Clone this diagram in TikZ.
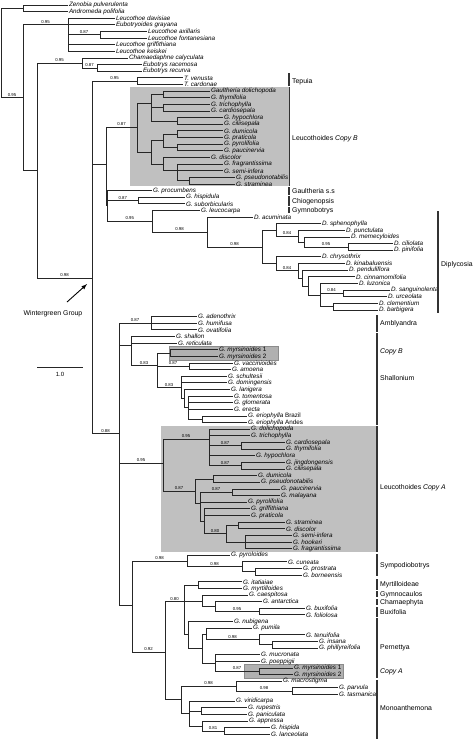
\documentclass[tikz,border=0pt]{standalone}
\usepackage{fontspec}
\setmainfont{Liberation Sans}
\usetikzlibrary{arrows}
\definecolor{boxgray}{RGB}{192,192,192}
\definecolor{myrgray}{RGB}{176,176,176}
\tikzstyle{branch} = [draw=black!85, line width=0.95pt]
\tikzstyle{taxon} = [anchor=west, inner sep=0.8pt, font=\fontsize{6.3}{6.5}\selectfont\itshape]
\tikzstyle{cladename} = [anchor=west, inner sep=0pt, font=\fontsize{6.9}{7.5}\selectfont]
\tikzstyle{support} = [above, inner sep=0.9pt, font=\fontsize{4.3}{4.5}\selectfont]
\tikzstyle{cladebar} = [draw=black!80, line width=1.4pt]

\begin{document}
\begin{tikzpicture}[x=1pt, y=-6.63pt]
\useasboundingbox (0,-0.754) rectangle (474,110.709);

% shaded clades
\fill[boxgray] (130,12.37) rectangle (290,27.3);
\fill[boxgray] (161,63.5) rectangle (377,82.5);
\fill[myrgray, draw=black!45, line width=0.4pt] (169,51.4) rectangle (278,53.55);
\fill[myrgray, draw=black!45, line width=0.4pt] (244,99.4) rectangle (343,101.5);

% taxa
\node (l0) [taxon] at (68,0) {Zenobia pulverulenta};
\node (l1) [taxon] at (68,1) {Andromeda polifolia};
\node (l2) [taxon] at (115,2) {Leucothoe davisiae};
\node (l3) [taxon] at (115,3) {Eubotryoides grayana};
\node (l4) [taxon] at (147,4) {Leucothoe axillaris};
\node (l5) [taxon] at (147,5) {Leucothoe fontanesiana};
\node (l6) [taxon] at (115,6) {Leucothoe griffithiana};
\node (l7) [taxon] at (115,7) {Leucothoe keiskei};
\node (l8) [taxon] at (128,8) {Chamaedaphne calyculata};
\node (l9) [taxon] at (142,9) {Eubotrys racemosa};
\node (l10) [taxon] at (142,10) {Eubotrys recurva};
\node (l11) [taxon] at (183,11) {T. venusta};
\node (l12) [taxon] at (183,12) {T. cardonae};
\node (l13) [taxon] at (210,13) {Gaultheria dolichopoda};
\node (l14) [taxon] at (210,14) {G. thymifolia};
\node (l15) [taxon] at (210,15) {G. trichophylla};
\node (l16) [taxon] at (210,16) {G. cardiosepala};
\node (l17) [taxon] at (223,17) {G. hypochlora};
\node (l18) [taxon] at (223,18) {G. ciliisepala};
\node (l19) [taxon] at (223,19) {G. dumicola};
\node (l20) [taxon] at (223,20) {G. praticola};
\node (l21) [taxon] at (223,21) {G. pyrolifolia};
\node (l22) [taxon] at (223,22) {G. paucinervia};
\node (l23) [taxon] at (210,23) {G. discolor};
\node (l24) [taxon] at (223,24) {G. fragrantissima};
\node (l25) [taxon] at (223,25) {G. semi-infera};
\node (l26) [taxon] at (235,26) {G. pseudonotabilis};
\node (l27) [taxon] at (235,27) {G. straminea};
\node (l28) [taxon] at (152,28) {G. procumbens};
\node (l29) [taxon] at (185,29) {G. hispidula};
\node (l30) [taxon] at (185,30) {G. suborbicularis};
\node (l31) [taxon] at (200,31) {G. leucocarpa};
\node (l32) [taxon] at (253,32) {D. acuminata};
\node (l33) [taxon] at (321,33) {D. sphenophylla};
\node (l34) [taxon] at (345,34) {D. punctulata};
\node (l35) [taxon] at (350,35) {D. memecyloides};
\node (l36) [taxon] at (393,36) {D. ciliolata};
\node (l37) [taxon] at (393,37) {D. pinifolia};
\node (l38) [taxon] at (321,38) {D. chrysothrix};
\node (l39) [taxon] at (345,39) {D. kinabaluensis};
\node (l40) [taxon] at (348,40) {D. penduliflora};
\node (l41) [taxon] at (355,41) {D. cinnamomifolia};
\node (l42) [taxon] at (358,42) {D. luzonica};
\node (l43) [taxon] at (390,43) {D. sanguinolenta};
\node (l44) [taxon] at (387,44) {D. urceolata};
\node (l45) [taxon] at (378,45) {D. clementium};
\node (l46) [taxon] at (378,46) {D. barbigera};
\node (l47) [taxon] at (197,47) {G. adenothrix};
\node (l48) [taxon] at (197,48) {G. humifusa};
\node (l49) [taxon] at (197,49) {G. ovatifolia};
\node (l50) [taxon] at (175,50) {G. shallon};
\node (l51) [taxon] at (177,51) {G. reticulata};
\node (l52) [taxon] at (218,52) {G. myrsinoides \textup{1}};
\node (l53) [taxon] at (218,53) {G. myrsinoides \textup{2}};
\node (l54) [taxon] at (233,54) {G. vaccinioides};
\node (l55) [taxon] at (231,55) {G. amoena};
\node (l56) [taxon] at (227,56) {G. schultesii};
\node (l57) [taxon] at (227,57) {G. domingensis};
\node (l58) [taxon] at (230,58) {G. lanigera};
\node (l59) [taxon] at (233,59) {G. tomentosa};
\node (l60) [taxon] at (233,60) {G. glomerata};
\node (l61) [taxon] at (233,61) {G. erecta};
\node (l62) [taxon] at (247,62) {G. eriophylla \textup{Brazil}};
\node (l63) [taxon] at (247,63) {G. eriophylla \textup{Andes}};
\node (l64) [taxon] at (250,64) {G. dolichopoda};
\node (l65) [taxon] at (250,65) {G. trichophylla};
\node (l66) [taxon] at (285,66) {G. cardiosepala};
\node (l67) [taxon] at (285,67) {G. thymifolia};
\node (l68) [taxon] at (255,68) {G. hypochlora};
\node (l69) [taxon] at (285,69) {G. jingdongensis};
\node (l70) [taxon] at (285,70) {G. ciliisepala};
\node (l71) [taxon] at (257,71) {G. dumicola};
\node (l72) [taxon] at (260,72) {G. pseudonotabilis};
\node (l73) [taxon] at (280,73) {G. paucinervia};
\node (l74) [taxon] at (280,74) {G. malayana};
\node (l75) [taxon] at (247,75) {G. pyrolifolia};
\node (l76) [taxon] at (250,76) {G. griffithiana};
\node (l77) [taxon] at (250,77) {G. praticola};
\node (l78) [taxon] at (285,78) {G. straminea};
\node (l79) [taxon] at (285,79) {G. discolor};
\node (l80) [taxon] at (292,80) {G. semi-infera};
\node (l81) [taxon] at (292,81) {G. hookeri};
\node (l82) [taxon] at (292,82) {G. fragrantissima};
\node (l83) [taxon] at (230,83) {G. pyroloides};
\node (l84) [taxon] at (287,84) {G. cuneata};
\node (l85) [taxon] at (302,85) {G. prostrata};
\node (l86) [taxon] at (302,86) {G. borneensis};
\node (l87) [taxon] at (242,87) {G. itatiaiae};
\node (l88) [taxon] at (242,88) {G. myrtilloides};
\node (l89) [taxon] at (248,89) {G. caespitosa};
\node (l90) [taxon] at (262,90) {G. antarctica};
\node (l91) [taxon] at (305,91) {G. buxifolia};
\node (l92) [taxon] at (305,92) {G. foliolosa};
\node (l93) [taxon] at (233,93) {G. nubigena};
\node (l94) [taxon] at (252,94) {G. pumila};
\node (l95) [taxon] at (305,95) {G. tenuifolia};
\node (l96) [taxon] at (318,96) {G. insana};
\node (l97) [taxon] at (318,97) {G. phillyreifolia};
\node (l98) [taxon] at (260,98) {G. mucronata};
\node (l99) [taxon] at (260,99) {G. poeppigii};
\node (l100) [taxon] at (293,100) {G. myrsinoides \textup{1}};
\node (l101) [taxon] at (293,101) {G. myrsinoides \textup{2}};
\node (l102) [taxon] at (282,102) {G. macrostigma};
\node (l103) [taxon] at (338,103) {G. parvula};
\node (l104) [taxon] at (338,104) {G. tasmanica};
\node (l105) [taxon] at (235,105) {G. viridicarpa};
\node (l106) [taxon] at (247,106) {G. rupestris};
\node (l107) [taxon] at (247,107) {G. paniculata};
\node (l108) [taxon] at (248,108) {G. appressa};
\node (l109) [taxon] at (270,109) {G. hispida};
\node (l110) [taxon] at (270,110) {G. lanceolata};

% internal nodes
\coordinate (root) at (1,7.25);
\coordinate (zn) at (23,0.5);
\coordinate (b1) at (23,14);
\coordinate (leu) at (68,3);
\coordinate (lax) at (100,4.5);
\coordinate (c1) at (37,25);
\coordinate (cha) at (82,8.75);
\coordinate (eub) at (97,9.5);
\coordinate (wg) at (92,41.2);
\coordinate (tep) at (137,11.5);
\coordinate (E) at (106,24);
\coordinate (cpB) at (137,18.4);
\coordinate (tB1) at (151,14.8);
\coordinate (tB2) at (163,13.5);
\coordinate (tB3) at (163,15.5);
\coordinate (hyp) at (177,17.5);
\coordinate (bB1) at (151,22.25);
\coordinate (bB2) at (163,20.5);
\coordinate (dp) at (177,19.5);
\coordinate (pp) at (177,21.5);
\coordinate (bB3) at (163,24);
\coordinate (bB4) at (177,25);
\coordinate (ps) at (189,26.5);
\coordinate (E2) at (107.5,30.3);
\coordinate (chi) at (138,29.5);
\coordinate (gd) at (152,32.6);
\coordinate (dip) at (207,34.25);
\coordinate (dip2) at (262,36.5);
\coordinate (dA) at (276,33.95);
\coordinate (dA2) at (298,34.9);
\coordinate (dA3) at (304,35.75);
\coordinate (cp) at (348,36.5);
\coordinate (dB) at (276,39.05);
\coordinate (dB2) at (298,40.1);
\coordinate (dB3) at (302,41.2);
\coordinate (dB4) at (308,42.4);
\coordinate (dB5) at (320,43.75);
\coordinate (su) at (343,43.5);
\coordinate (cb) at (333,45.5);
\coordinate (H) at (119,64.7);
\coordinate (amb) at (151,48);
\coordinate (I) at (131,51.3);
\coordinate (J) at (157,54.4);
\coordinate (myrB) at (170,52.5);
\coordinate (vac) at (189,54.5);
\coordinate (K) at (181,57.7);
\coordinate (K2) at (184,59.4);
\coordinate (K3) at (188,60.75);
\coordinate (eri) at (202,62.5);
\coordinate (cpA) at (163,69.1);
\coordinate (M) at (209,65.5);
\coordinate (M1) at (241,66.5);
\coordinate (M2) at (241,69.5);
\coordinate (N) at (195,73.3);
\coordinate (N0) at (213,71.5);
\coordinate (N2) at (200,75.2);
\coordinate (N21) at (232,73.5);
\coordinate (N3) at (204,77.9);
\coordinate (N4) at (226,79.75);
\coordinate (N41) at (238,78.5);
\coordinate (N42) at (245,81);
\coordinate (O) at (132,90.5);
\coordinate (sym) at (187,83.9);
\coordinate (sym2) at (242,84.75);
\coordinate (sym3) at (255,85.5);
\coordinate (P) at (165,97.6);
\coordinate (Q) at (184,90);
\coordinate (my2) at (198,87.5);
\coordinate (R) at (202,89.9);
\coordinate (S) at (215,90.75);
\coordinate (T) at (259,91.5);
\coordinate (Pn) at (188,95);
\coordinate (U) at (202,97.1);
\coordinate (U1) at (206,94.9);
\coordinate (U11) at (259,95.75);
\coordinate (U12) at (272,96.5);
\coordinate (U2) at (215,99.25);
\coordinate (myrA) at (259,100.5);
\coordinate (Mon) at (181,104.8);
\coordinate (Mo1) at (236,102.75);
\coordinate (Mo2) at (292,103.5);
\coordinate (V) at (189,106.9);
\coordinate (V1) at (201,106.5);
\coordinate (V2) at (202,108.75);
\coordinate (V21) at (224,109.5);

% branches
\draw[branch] (root) |- (zn) (root) |- (b1) node[support,pos=0.75]{0.95};
\draw[branch] (zn) |- (l0.west) (zn) |- (l1.west);
\draw[branch] (b1) |- (leu) node[support,pos=0.75]{0.95} (b1) |- (c1);
\draw[branch] (leu) |- (l2.west) (leu) |- (l3.west) (leu) |- (lax) node[support,pos=0.75]{0.87} (leu) |- (l6.west) (leu) |- (l7.west);
\draw[branch] (lax) |- (l4.west) (lax) |- (l5.west);
\draw[branch] (c1) |- (cha) node[support,pos=0.75]{0.95} (c1) |- (wg) node[support,pos=0.75]{0.98};
\draw[branch] (cha) |- (l8.west) (cha) |- (eub) node[support,pos=0.75]{0.87};
\draw[branch] (eub) |- (l9.west) (eub) |- (l10.west);
\draw[branch] (wg) |- (tep) node[support,pos=0.75]{0.95} (wg) |- (E) (wg) |- (H) node[support,pos=0.75]{0.88};
\draw[branch] (tep) |- (l11.west) (tep) |- (l12.west);
\draw[branch] (E) |- (cpB) node[support,pos=0.75]{0.87} (E) |- (E2);
\draw[branch] (cpB) |- (tB1) (cpB) |- (bB1);
\draw[branch] (tB1) |- (tB2) (tB1) |- (tB3) (tB1) |- (hyp);
\draw[branch] (tB2) |- (l13.west) (tB2) |- (l14.west);
\draw[branch] (tB3) |- (l15.west) (tB3) |- (l16.west);
\draw[branch] (hyp) |- (l17.west) (hyp) |- (l18.west);
\draw[branch] (bB1) |- (bB2) (bB1) |- (bB3);
\draw[branch] (bB2) |- (dp) (bB2) |- (pp);
\draw[branch] (dp) |- (l19.west) (dp) |- (l20.west);
\draw[branch] (pp) |- (l21.west) (pp) |- (l22.west);
\draw[branch] (bB3) |- (l23.west) (bB3) |- (bB4);
\draw[branch] (bB4) |- (l24.west) (bB4) |- (l25.west) (bB4) |- (ps);
\draw[branch] (ps) |- (l26.west) (ps) |- (l27.west);
\draw[branch] (E2) |- (l28.west) (E2) |- (chi) node[support,pos=0.75]{0.87} (E2) |- (gd) node[support,pos=0.75]{0.95};
\draw[branch] (chi) |- (l29.west) (chi) |- (l30.west);
\draw[branch] (gd) |- (l31.west) (gd) |- (dip) node[support,pos=0.75]{0.98};
\draw[branch] (dip) |- (l32.west) (dip) |- (dip2) node[support,pos=0.75]{0.98};
\draw[branch] (dip2) |- (dA) (dip2) |- (dB);
\draw[branch] (dA) |- (l33.west) (dA) |- (dA2) node[support,pos=0.75]{0.84};
\draw[branch] (dA2) |- (l34.west) (dA2) |- (dA3);
\draw[branch] (dA3) |- (l35.west) (dA3) |- (cp) node[support,pos=0.75]{0.95};
\draw[branch] (cp) |- (l36.west) (cp) |- (l37.west);
\draw[branch] (dB) |- (l38.west) (dB) |- (dB2) node[support,pos=0.75]{0.84};
\draw[branch] (dB2) |- (l39.west) (dB2) |- (dB3);
\draw[branch] (dB3) |- (l40.west) (dB3) |- (dB4);
\draw[branch] (dB4) |- (l41.west) (dB4) |- (dB5);
\draw[branch] (dB5) |- (l42.west) (dB5) |- (su) node[support,pos=0.75]{0.84} (dB5) |- (cb);
\draw[branch] (su) |- (l43.west) (su) |- (l44.west);
\draw[branch] (cb) |- (l45.west) (cb) |- (l46.west);
\draw[branch] (H) |- (amb) node[support,pos=0.75]{0.87} (H) |- (I) (H) |- (cpA) node[support,pos=0.75]{0.95} (H) |- (O);
\draw[branch] (amb) |- (l47.west) (amb) |- (l48.west) (amb) |- (l49.west);
\draw[branch] (I) |- (l50.west) (I) |- (l51.west) (I) |- (J) node[support,pos=0.75]{0.83};
\draw[branch] (J) |- (myrB) (J) |- (vac) node[support,pos=0.75]{0.87} (J) |- (K) node[support,pos=0.75]{0.83};
\draw[branch] (myrB) |- (l52.west) (myrB) |- (l53.west);
\draw[branch] (vac) |- (l54.west) (vac) |- (l55.west);
\draw[branch] (K) |- (l56.west) (K) |- (l57.west) (K) |- (K2);
\draw[branch] (K2) |- (l58.west) (K2) |- (K3);
\draw[branch] (K3) |- (l59.west) (K3) |- (l60.west) (K3) |- (l61.west) (K3) |- (eri);
\draw[branch] (eri) |- (l62.west) (eri) |- (l63.west);
\draw[branch] (cpA) |- (M) node[support,pos=0.75]{0.95} (cpA) |- (N) node[support,pos=0.75]{0.87};
\draw[branch] (M) |- (l64.west) (M) |- (l65.west) (M) |- (M1) node[support,pos=0.75]{0.87} (M) |- (l68.west) (M) |- (M2) node[support,pos=0.75]{0.87};
\draw[branch] (M1) |- (l66.west) (M1) |- (l67.west);
\draw[branch] (M2) |- (l69.west) (M2) |- (l70.west);
\draw[branch] (N) |- (N0) (N) |- (N2);
\draw[branch] (N0) |- (l71.west) (N0) |- (l72.west);
\draw[branch] (N2) |- (N21) node[support,pos=0.75]{0.87} (N2) |- (l75.west) (N2) |- (N3);
\draw[branch] (N21) |- (l73.west) (N21) |- (l74.west);
\draw[branch] (N3) |- (l76.west) (N3) |- (l77.west) (N3) |- (N4) node[support,pos=0.75]{0.80};
\draw[branch] (N4) |- (N41) (N4) |- (N42);
\draw[branch] (N41) |- (l78.west) (N41) |- (l79.west);
\draw[branch] (N42) |- (l80.west) (N42) |- (l81.west) (N42) |- (l82.west);
\draw[branch] (O) |- (sym) node[support,pos=0.75]{0.98} (O) |- (P) node[support,pos=0.75]{0.92};
\draw[branch] (sym) |- (l83.west) (sym) |- (sym2) node[support,pos=0.75]{0.98};
\draw[branch] (sym2) |- (l84.west) (sym2) |- (sym3);
\draw[branch] (sym3) |- (l85.west) (sym3) |- (l86.west);
\draw[branch] (P) |- (Q) node[support,pos=0.75]{0.80} (P) |- (Mon);
\draw[branch] (Q) |- (my2) (Q) |- (R) (Q) |- (Pn);
\draw[branch] (my2) |- (l87.west) (my2) |- (l88.west);
\draw[branch] (R) |- (l89.west) (R) |- (S);
\draw[branch] (S) |- (l90.west) (S) |- (T) node[support,pos=0.75]{0.95};
\draw[branch] (T) |- (l91.west) (T) |- (l92.west);
\draw[branch] (Pn) |- (l93.west) (Pn) |- (U);
\draw[branch] (U) |- (U1) (U) |- (U2);
\draw[branch] (U1) |- (l94.west) (U1) |- (U11) node[support,pos=0.75]{0.98};
\draw[branch] (U11) |- (l95.west) (U11) |- (U12);
\draw[branch] (U12) |- (l96.west) (U12) |- (l97.west);
\draw[branch] (U2) |- (l98.west) (U2) |- (l99.west) (U2) |- (myrA) node[support,pos=0.75]{0.87};
\draw[branch] (myrA) |- (l100.west) (myrA) |- (l101.west);
\draw[branch] (Mon) |- (Mo1) node[support,pos=0.75]{0.98} (Mon) |- (V);
\draw[branch] (Mo1) |- (l102.west) (Mo1) |- (Mo2) node[support,pos=0.75]{0.98};
\draw[branch] (Mo2) |- (l103.west) (Mo2) |- (l104.west);
\draw[branch] (V) |- (l105.west) (V) |- (V1) (V) |- (V2);
\draw[branch] (V1) |- (l106.west) (V1) |- (l107.west);
\draw[branch] (V2) |- (l108.west) (V2) |- (V21) node[support,pos=0.75]{0.81};
\draw[branch] (V21) |- (l109.west) (V21) |- (l110.west);

% clade bars and names
\draw[cladebar] (289,10.3) -- (289,12.2);
\draw[cladebar] (289.5,12.37) -- (289.5,27.3);
\draw[cladebar] (289,27.5) -- (289,28.6);
\draw[cladebar] (289,28.8) -- (289,30.3);
\draw[cladebar] (289,30.5) -- (289,31.4);
\draw[cladebar] (438,31.1) -- (438,46.5);
\draw[cladebar] (377,46.8) -- (377,49.3);
\draw[cladebar] (377,49.5) -- (377,63.3);
\draw[cladebar] (377,63.5) -- (377,82.5);
\draw[cladebar] (377,82.8) -- (377,86.1);
\draw[cladebar] (377,86.6) -- (377,88.2);
\draw[cladebar] (377,88.4) -- (377,89.3);
\draw[cladebar] (377,89.6) -- (377,90.5);
\draw[cladebar] (377,90.8) -- (377,92.3);
\draw[cladebar] (377,92.5) -- (377,101.5);
\draw[cladebar] (377,101.8) -- (377,110.8);

\node (tepuia) [cladename] at (292,11.5) {Tepuia};
\node (leucB) [cladename] at (292,20.2) {Leucothoides \textit{Copy B}};
\node (gss) [cladename] at (292,28.1) {Gaultheria s.s};
\node (chiog) [cladename] at (292,29.6) {Chiogenopsis};
\node (gymno) [cladename] at (292,31.0) {Gymnobotrys};
\node (diply) [cladename] at (441,39.1) {Diplycosia};
\node (ambly) [cladename] at (380,48) {Amblyandra};
\node (copyB) [cladename] at (380,52.3) {\textit{Copy B}};
\node (shall) [cladename] at (380,56.3) {Shallonium};
\node (leucA) [cladename] at (380,72.8) {Leucothoides \textit{Copy A}};
\node (sympo) [cladename] at (380,84.6) {Sympodiobotrys};
\node (myrti) [cladename] at (380,87.4) {Myrtilloideae};
\node (gcaul) [cladename] at (380,88.9) {Gymnocaulos};
\node (chama) [cladename] at (380,90.1) {Chamaephyta};
\node (buxif) [cladename] at (380,91.6) {Buxifolia};
\node (perne) [cladename] at (380,97) {Pernettya};
\node (copyA) [cladename] at (380,100.5) {\textit{Copy A}};
\node (monoa) [cladename] at (380,106) {Monoanthemona};

% Wintergreen Group and scale
\node (wglab) [cladename, anchor=center] at (53,46.6) {Wintergreen Group};
\coordinate (wgfrom) at (67,44.8);
\coordinate (wgto) at (87,42.1);
\draw[-latex, line width=0.9pt] (wgfrom) -- (wgto);
\coordinate (sb1) at (37,54.6);
\coordinate (sb2) at (83,54.6);
\draw[branch] (sb1) -- (sb2);
\node (sblab) [font=\fontsize{6}{6}\selectfont, inner sep=0pt] at (60,55.7) {1.0};

\end{tikzpicture}
\end{document}
